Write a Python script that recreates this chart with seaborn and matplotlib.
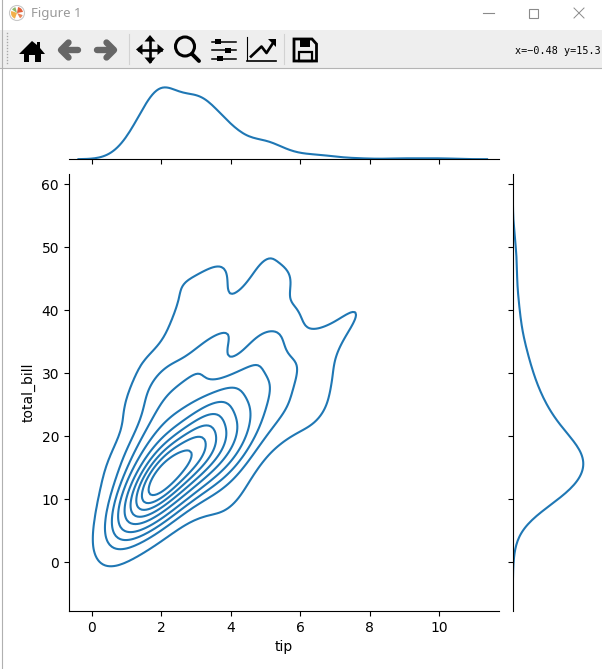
# -*- coding:utf-8 -*-
import matplotlib as mpl
mpl.use("Agg")
import matplotlib.pyplot as plt
from matplotlib.patches import Circle, Polygon, Rectangle, Wedge
import seaborn as sns

total_bill = [16.99, 10.34, 21.01, 23.68, 24.59, 25.29, 8.77, 26.88, 15.04, 14.78, 10.27, 35.26, 15.42, 18.43, 14.83,
              21.58, 10.33, 16.29, 16.97, 20.65, 17.92, 20.29, 15.77, 39.42, 19.82, 17.81, 13.37, 12.69, 21.7, 19.65,
              9.55, 18.35, 15.06, 20.69, 17.78, 24.06, 16.31, 16.93, 18.69, 31.27, 16.04, 17.46, 13.94, 9.68, 30.4,
              18.29, 22.23, 32.4, 28.55, 18.04, 12.54, 10.29, 34.81, 9.94, 25.56, 19.49, 38.01, 26.41, 11.24, 48.27,
              20.29, 13.81, 11.02, 18.29, 17.59, 20.08, 16.45, 3.07, 20.23, 15.01, 12.02, 17.07, 26.86, 25.28, 14.73,
              10.51, 17.92, 27.2, 22.76, 17.29, 19.44, 16.66, 10.07, 32.68, 15.98, 34.83, 13.03, 18.28, 24.71, 21.16,
              28.97, 22.49, 5.75, 16.32, 22.75, 40.17, 27.28, 12.03, 21.01, 12.46, 11.35, 15.38, 44.3, 22.42, 20.92,
              15.36, 20.49, 25.21, 18.24, 14.31, 14.0, 7.25, 38.07, 23.95, 25.71, 17.31, 29.93, 10.65, 12.43, 24.08,
              11.69, 13.42, 14.26, 15.95, 12.48, 29.8, 8.52, 14.52, 11.38, 22.82, 19.08, 20.27, 11.17, 12.26, 18.26,
              8.51, 10.33, 14.15, 16.0, 13.16, 17.47, 34.3, 41.19, 27.05, 16.43, 8.35, 18.64, 11.87, 9.78, 7.51,
              14.07, 13.13, 17.26, 24.55, 19.77, 29.85, 48.17, 25.0, 13.39, 16.49, 21.5, 12.66, 16.21, 13.81, 17.51,
              24.52, 20.76, 31.71, 10.59, 10.63, 50.81, 15.81, 7.25, 31.85, 16.82, 32.9, 17.89, 14.48, 9.6, 34.63,
              34.65, 23.33, 45.35, 23.17, 40.55, 20.69, 20.9, 30.46, 18.15, 23.1, 15.69, 19.81, 28.44, 15.48, 16.58,
              7.56, 10.34, 43.11, 13.0, 13.51, 18.71, 12.74, 13.0, 16.4, 20.53, 16.47, 26.59, 38.73, 24.27, 12.76,
              30.06, 25.89, 48.33, 13.27, 28.17, 12.9, 28.15, 11.59, 7.74, 30.14, 12.16, 13.42, 8.58, 15.98, 13.42,
              16.27, 10.09, 20.45, 13.28, 22.12, 24.01, 15.69, 11.61, 10.77, 15.53, 10.07, 12.6, 32.83, 35.83, 29.03,
              27.18, 22.67, 17.82, 18.78]
tip = [1.01, 1.66, 3.5, 3.31, 3.61, 4.71, 2.0, 3.12, 1.96, 3.23, 1.71, 5.0, 1.57, 3.0, 3.02,
       3.92, 1.67, 3.71, 3.5, 3.35, 4.08, 2.75, 2.23, 7.58, 3.18, 2.34, 2.0, 2.0, 4.3, 3.0,
       1.45, 2.5, 3.0, 2.45, 3.27, 3.6, 2.0, 3.07, 2.31, 5.0, 2.24, 2.54, 3.06, 1.32, 5.6,
       3.0, 5.0, 6.0, 2.05, 3.0, 2.5, 2.6, 5.2, 1.56, 4.34, 3.51, 3.0, 1.5, 1.76, 6.73,
       3.21, 2.0, 1.98, 3.76, 2.64, 3.15, 2.47, 1.0, 2.01, 2.09, 1.97, 3.0, 3.14, 5.0, 2.2,
       1.25, 3.08, 4.0, 3.0, 2.71, 3.0, 3.4, 1.83, 5.0, 2.03, 5.17, 2.0, 4.0, 5.85, 3.0,
       3.0, 3.5, 1.0, 4.3, 3.25, 4.73, 4.0, 1.5, 3.0, 1.5, 2.5, 3.0, 2.5, 3.48, 4.08,
       1.64, 4.06, 4.29, 3.76, 4.0, 3.0, 1.0, 4.0, 2.55, 4.0, 3.5, 5.07, 1.5, 1.8, 2.92,
       2.31, 1.68, 2.5, 2.0, 2.52, 4.2, 1.48, 2.0, 2.0, 2.18, 1.5, 2.83, 1.5, 2.0, 3.25,
       1.25, 2.0, 2.0, 2.0, 2.75, 3.5, 6.7, 5.0, 5.0, 2.3, 1.5, 1.36, 1.63, 1.73, 2.0,
       2.5, 2.0, 2.74, 2.0, 2.0, 5.14, 5.0, 3.75, 2.61, 2.0, 3.5, 2.5, 2.0, 2.0, 3.0,
       3.48, 2.24, 4.5, 1.61, 2.0, 10.0, 3.16, 5.15, 3.18, 4.0, 3.11, 2.0, 2.0, 4.0, 3.55,
       3.68, 5.65, 3.5, 6.5, 3.0, 5.0, 3.5, 2.0, 3.5, 4.0, 1.5, 4.19, 2.56, 2.02, 4.0,
       1.44, 2.0, 5.0, 2.0, 2.0, 4.0, 2.01, 2.0, 2.5, 4.0, 3.23, 3.41, 3.0, 2.03, 2.23,
       2.0, 5.16, 9.0, 2.5, 6.5, 1.1, 3.0, 1.5, 1.44, 3.09, 2.2, 3.48, 1.92, 3.0, 1.58,
       2.5, 2.0, 3.0, 2.72, 2.88, 2.0, 3.0, 3.39, 1.47, 3.0, 1.25, 1.0, 1.17, 4.67, 5.92,
       2.0, 2.0, 1.75, 3.0]

W, H = 602, 669


def px_box(left, top, right, bottom):
    return [left / W, 1 - bottom / H, (right - left) / W, (bottom - top) / H]


def draw_window(fig):
    # the window frame and toolbar around the figure, in pixels
    ax = fig.add_axes([0, 0, 1, 1], zorder=5)
    ax.set_xlim(0, W)
    ax.set_ylim(H, 0)
    ax.axis("off")
    ax.patch.set_alpha(0)

    ax.add_patch(Rectangle((0, 30), W, 38, color="#eeeeee", lw=0))
    ax.plot([0, W], [68.2, 68.2], color="#b4b4b4", lw=0.8)
    ax.plot([1.5, 1.5], [0, H], color="#b0b0b0", lw=0.8)

    # title bar
    ax.add_patch(Circle((17, 13), 7.5, fc="white", ec="#c8c8c8", lw=0.8))
    ax.add_patch(Wedge((17, 13), 6, 110, 200, fc="#f2b04a", lw=0))
    ax.add_patch(Wedge((17, 13), 6, 280, 350, fc="#e2603a", lw=0))
    ax.add_patch(Wedge((17, 13), 6, 20, 60, fc="#e8855a", lw=0))
    ax.add_patch(Wedge((17, 13), 6, 215, 255, fc="#8fb86a", lw=0))
    ax.text(31, 13.5, "Figure 1", color="#9a9a9a", fontsize=9.5, family="Noto Sans", va="center")
    ax.plot([483, 494], [13, 13], color="#8a8a8a", lw=0.8)
    ax.add_patch(Rectangle((528.5, 8.5), 9.5, 9.5, fc="none", ec="#8a8a8a", lw=0.8))
    ax.plot([574, 584], [8, 18], color="#8a8a8a", lw=0.7)
    ax.plot([574, 584], [18, 8], color="#8a8a8a", lw=0.7)

    # toolbar grip and separators
    for y in range(33, 64, 3):
        ax.plot([7], [y], marker="s", ms=1, color="#a8a8a8", mew=0)
    ax.plot([128.5, 128.5], [34, 64], color="#d2d2d2", lw=0.8)
    ax.plot([283.5, 283.5], [34, 64], color="#d2d2d2", lw=0.8)

    # home
    ax.add_patch(Polygon([(32, 41), (37, 45), (37, 42), (40, 42), (40, 48), (45, 54), (41, 54), (41, 62), (35, 62),
                          (35, 55), (29, 55), (29, 62), (24, 62), (24, 54), (19, 54)], color="black", lw=0))
    # back and forward
    for pts_x, pts_y in [([78, 62], [50, 50]), ([68.5, 61, 68.5], [42.5, 50, 57.5]),
                         ([97, 113], [50, 50]), ([106.5, 114, 106.5], [42.5, 50, 57.5])]:
        ax.plot(pts_x, pts_y, color="#666666", lw=4.6, solid_capstyle="round", solid_joinstyle="round")
    # move
    ax.plot([139, 161], [49.5, 49.5], color="black", lw=1.9)
    ax.plot([150, 150], [38, 61], color="black", lw=1.9)
    ax.add_patch(Polygon([(150, 35), (155.5, 41.5), (144.5, 41.5)], color="black", lw=0))
    ax.add_patch(Polygon([(150, 64), (155.5, 57.5), (144.5, 57.5)], color="black", lw=0))
    ax.add_patch(Polygon([(136, 49.5), (142.5, 44), (142.5, 55), ], color="black", lw=0))
    ax.add_patch(Polygon([(164, 49.5), (157.5, 44), (157.5, 55)], color="black", lw=0))
    # zoom
    ax.add_patch(Circle((185, 46.5), 9.5, fc="none", ec="black", lw=2.2))
    ax.plot([192, 199], [54, 61], color="black", lw=2.8, solid_capstyle="round")
    # sliders
    for y, x0 in zip([41.7, 50, 58.5], [218, 228, 220]):
        ax.plot([212, 236], [y, y], color="black", lw=1.1)
        ax.add_patch(Rectangle((x0 - 3, y - 2.5), 6, 5, color="black", lw=0))
    # chart
    ax.plot([247, 276], [60.7, 60.7], color="black", lw=1.2)
    ax.plot([247, 247], [37, 60], color="black", lw=0.8)
    ax.plot([251, 261.5, 266.5, 273], [56.5, 46.5, 53, 43], color="black", lw=1.9)
    ax.add_patch(Polygon([(276, 39), (276, 47), (268, 39)], color="black", lw=0))
    # save
    ax.add_patch(Polygon([(294, 39), (312, 39), (316.5, 44), (316.5, 61), (294, 61)], fc="none", ec="black", lw=2))
    ax.add_patch(Rectangle((300, 39), 10, 7.5, fc="black", lw=0))
    ax.add_patch(Rectangle((299, 52), 13, 9, fc="none", ec="black", lw=1.6))

    ax.text(515, 50.5, "x=\u22120.48 y=15.3", color="black", fontsize=7.25, family="DejaVu Sans Mono", va="center")


g = sns.jointplot(x=tip, y=total_bill, kind="kde", height=6)
g.set_axis_labels("tip", "total_bill")
fig = g.figure
fig.set_size_inches(W / 100, H / 100)

g.ax_joint.set_position(px_box(68.8, 173.8, 498.8, 611.2))
g.ax_marg_x.set_position(px_box(68.8, 83.8, 498.8, 159.2))
g.ax_marg_y.set_position(px_box(512.8, 173.8, 586.8, 611.2))
g.ax_joint.set_xlim(-0.66, 11.72)
g.ax_joint.set_ylim(-7.78, 61.67)
g.ax_joint.set_xticks([0, 2, 4, 6, 8, 10])
g.ax_joint.set_yticks([0, 10, 20, 30, 40, 50, 60])

draw_window(fig)
fig.savefig("out.png", dpi=100)
